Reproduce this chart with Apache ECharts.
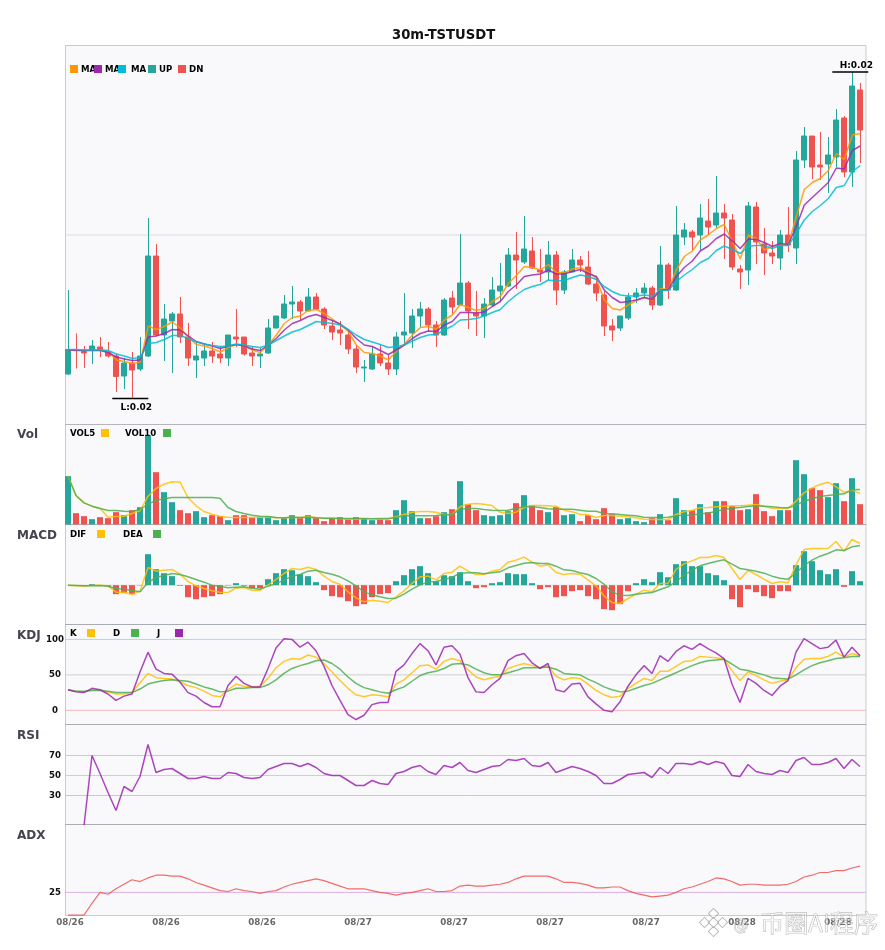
<!DOCTYPE html>
<html>
<head>
<meta charset="utf-8">
<style>html,body{margin:0;padding:0;background:#fff}#chart{width:885px;height:950px}</style>
<script src="https://cdn.jsdelivr.net/npm/echarts@6/dist/echarts.min.js"></script>
</head>
<body>
<div id="chart"></div>
<script>
// prices are in units of 0.00001
const open=[1601,1649,1646,1648,1655,1645,1637,1597,1623,1611,1637,1837,1679,1707,1721,1675,1629,1633,1647,1641,1633,1675,1675,1643,1637,1643,1693,1713,1741,1745,1727,1755,1731,1697,1689,1679,1651,1613,1611,1641,1623,1611,1679,1683,1717,1731,1699,1679,1753,1739,1783,1723,1717,1739,1767,1777,1839,1825,1847,1809,1805,1839,1769,1805,1829,1815,1781,1759,1697,1693,1713,1755,1763,1773,1739,1819,1769,1875,1885,1879,1907,1899,1923,1909,1811,1809,1935,1861,1843,1833,1879,1853,2029,2077,2019,2021,2035,2113,2005,2169];
const close=[1650,1648,1643,1657,1649,1637,1596,1623,1609,1637,1837,1679,1711,1721,1675,1633,1637,1647,1637,1633,1679,1671,1641,1637,1641,1693,1717,1741,1745,1727,1755,1731,1699,1685,1683,1651,1615,1615,1641,1623,1611,1675,1685,1717,1731,1699,1679,1749,1735,1783,1727,1717,1741,1769,1777,1839,1829,1851,1813,1805,1839,1769,1805,1829,1819,1781,1763,1697,1689,1717,1755,1763,1773,1739,1819,1769,1879,1889,1875,1913,1895,1923,1913,1815,1805,1937,1865,1843,1837,1879,1859,2029,2077,2015,2015,2039,2109,2005,2177,2089];
const low=[1599,1612,1613,1621,1635,1634,1565,1571,1552,1607,1635,1677,1627,1603,1663,1617,1593,1617,1623,1623,1617,1655,1638,1617,1613,1641,1693,1711,1711,1709,1727,1729,1691,1669,1659,1641,1603,1585,1609,1617,1599,1599,1657,1653,1695,1686,1655,1677,1719,1739,1691,1677,1673,1736,1745,1775,1771,1821,1811,1785,1789,1739,1761,1805,1805,1779,1747,1677,1667,1687,1709,1743,1755,1729,1737,1751,1767,1859,1847,1847,1879,1893,1831,1809,1771,1779,1821,1799,1821,1809,1845,1821,2013,1991,1989,1963,2015,1995,1975,2023];
const high=[1769,1682,1657,1669,1675,1665,1642,1633,1645,1675,1913,1861,1741,1725,1755,1703,1665,1663,1665,1657,1679,1731,1675,1657,1653,1711,1717,1759,1777,1749,1773,1763,1735,1707,1707,1691,1659,1629,1655,1659,1639,1685,1763,1731,1745,1735,1707,1753,1767,1881,1787,1767,1753,1795,1823,1853,1885,1917,1875,1851,1867,1847,1809,1851,1837,1847,1797,1767,1711,1717,1763,1773,1783,1777,1857,1823,1937,1903,1889,1941,1951,1997,1941,1921,1819,1945,1945,1893,1867,1889,1935,2047,2095,2077,2085,2075,2131,2117,2205,2183];
const ma5=[1649,1649,1648,1649,1649,1646,1629,1626,1622,1625,1697,1690,1696,1705,1693,1674,1660,1657,1652,1645,1654,1660,1657,1649,1644,1659,1679,1702,1714,1717,1728,1730,1722,1711,1699,1686,1659,1644,1642,1637,1629,1646,1661,1679,1694,1696,1691,1709,1719,1740,1734,1728,1732,1746,1756,1782,1798,1816,1814,1809,1820,1804,1803,1811,1814,1805,1792,1749,1732,1729,1739,1748,1754,1749,1772,1770,1809,1836,1847,1869,1879,1892,1900,1866,1831,1879,1872,1849,1856,1860,1860,1916,1970,1984,1992,2008,2042,2030,2079,2082];
const ma10=[1649,1648,1648,1648,1648,1644,1635,1631,1628,1629,1675,1677,1682,1690,1689,1677,1666,1661,1657,1652,1657,1660,1657,1651,1648,1659,1672,1689,1702,1708,1716,1720,1714,1708,1701,1689,1672,1659,1656,1648,1640,1649,1659,1672,1682,1687,1686,1699,1706,1724,1724,1723,1725,1736,1746,1766,1779,1796,1799,1801,1809,1801,1801,1806,1810,1802,1796,1769,1754,1744,1746,1749,1754,1750,1769,1770,1796,1814,1827,1847,1857,1872,1881,1867,1852,1871,1870,1864,1856,1862,1860,1896,1939,1954,1969,1984,2013,2011,2048,2057];
const ma20=[1650,1650,1649,1649,1649,1648,1641,1637,1632,1634,1662,1664,1670,1678,1678,1672,1665,1661,1658,1656,1657,1661,1659,1656,1654,1659,1668,1677,1685,1690,1698,1706,1704,1702,1699,1690,1679,1670,1665,1660,1654,1656,1659,1667,1674,1679,1680,1689,1697,1709,1710,1712,1717,1724,1730,1746,1759,1770,1776,1780,1789,1787,1788,1794,1799,1796,1790,1776,1766,1759,1757,1757,1759,1757,1769,1768,1786,1799,1810,1824,1832,1848,1857,1850,1842,1857,1858,1858,1852,1858,1858,1882,1909,1926,1938,1952,1974,1978,2006,2018];
const volume=[145,34,25,16,22,19,37,28,43,52,268,157,97,67,43,34,40,22,28,25,13,28,28,22,22,25,13,19,28,19,28,19,10,19,22,16,22,19,13,16,13,43,73,40,19,19,25,37,46,130,61,43,28,25,28,40,64,88,58,43,37,52,28,31,10,28,16,49,31,16,19,10,7,19,31,13,79,43,43,61,37,70,70,55,43,46,91,40,25,43,43,193,151,109,103,82,124,70,139,61];
const vol5=[145,87,65,55,49,22,24,25,33,41,85,108,121,128,127,81,56,39,31,25,22,21,21,21,22,22,20,20,21,21,23,21,19,19,17,16,16,17,17,16,16,23,30,36,39,39,37,30,30,53,61,63,61,57,37,33,37,51,57,57,56,55,43,38,31,29,21,27,27,25,23,20,16,15,15,15,30,38,42,50,51,53,55,56,56,58,60,55,49,48,48,70,95,110,120,127,113,97,103,93];
const vol10=[145,87,65,55,48,42,42,40,39,45,61,72,77,81,81,81,81,81,81,79,51,39,33,28,25,24,21,20,22,21,22,20,19,19,18,18,18,18,17,18,18,21,26,27,26,26,27,29,29,46,48,48,45,43,42,43,48,53,53,51,47,46,46,46,43,40,40,33,32,30,28,26,22,21,21,22,26,28,28,32,34,40,45,49,51,54,56,55,53,51,50,58,70,77,84,87,90,92,104,105];
const macdHist=[0,-1,-2,3,-1,-4,-27,-24,-27,-1,93,48,36,27,-2,-36,-42,-36,-33,-27,-1,6,-2,-9,-9,18,36,48,45,33,27,9,-15,-33,-36,-48,-63,-57,-36,-27,-24,12,30,48,57,36,12,30,27,39,12,-9,-6,6,9,36,33,33,6,-12,-6,-36,-33,-18,-15,-33,-42,-72,-75,-57,-18,6,18,9,39,24,63,72,57,57,36,30,15,-42,-66,-12,-21,-33,-39,-18,-18,60,102,72,45,33,48,-5,42,12];
const dif=[0,-2,-3,-1,0,-2,-21,-21,-28,-18,53,42,45,47,33,11,-2,-10,-17,-21,-22,-9,-7,-15,-16,0,17,35,50,47,54,47,27,11,3,-20,-38,-50,-45,-48,-52,-35,-17,5,25,27,16,35,39,57,42,32,32,42,47,69,75,84,69,57,61,38,32,35,33,16,-2,-32,-52,-55,-40,-27,-15,-20,5,5,47,64,73,83,83,89,83,50,17,44,32,18,5,10,7,60,107,110,110,110,131,102,137,125];
const dea=[0,-1,-2,-2,-1,-3,-10,-12,-16,-20,8,23,29,35,32,25,17,9,0,-3,-8,-6,-5,-9,-12,-3,5,15,27,32,42,45,38,33,25,13,-2,-20,-29,-35,-40,-39,-27,-12,1,10,11,17,23,36,37,37,34,37,40,52,59,66,68,65,65,57,46,44,37,32,20,3,-20,-30,-31,-27,-24,-22,-13,-5,11,29,45,58,65,71,76,63,50,46,42,36,27,21,18,37,59,75,87,95,106,104,115,119];
const kLine=[29,27,26,29,29,26,23,23,25,39,52,46,45,44,40,35,32,27,21,19,29,37,34,33,34,45,60,69,73,72,78,75,66,54,42,31,22,19,22,21,19,37,43,53,63,64,58,69,73,70,57,47,43,46,48,59,63,66,63,60,63,48,43,46,45,37,28,22,18,20,31,38,45,42,55,55,62,69,70,76,75,74,72,56,42,54,49,43,38,41,43,60,72,73,73,76,82,75,80,77];
const dLine=[29,27,27,28,28,27,25,25,25,30,37,40,42,43,42,41,37,33,30,26,27,31,31,32,32,36,43,52,59,63,66,70,71,66,58,47,38,32,29,26,24,29,33,41,49,53,55,59,65,66,64,58,53,50,50,53,56,60,60,60,61,58,52,51,50,44,39,33,29,26,27,31,35,38,43,48,53,58,63,67,70,71,72,65,58,56,53,50,46,45,44,50,57,63,67,70,73,74,76,76];
const jLine=[29,26,25,31,29,23,14,20,23,54,82,58,52,51,40,25,20,11,5,5,35,48,38,33,33,59,88,101,100,89,96,84,62,35,14,-6,-13,-7,8,11,11,55,64,80,94,84,64,89,91,79,46,26,25,36,45,70,77,80,67,59,66,29,26,37,38,19,9,0,-2,12,34,50,63,52,77,69,83,91,86,94,87,81,73,37,11,45,38,28,21,34,42,82,101,94,87,89,99,75,89,77];
const rsi=[null,null,0,70,52,33,15,39,34,49,81,53,56,57,52,47,47,49,47,47,53,52,48,47,48,56,59,62,62,59,62,58,52,50,50,45,40,40,45,42,41,52,54,58,60,54,51,60,58,63,55,53,56,59,60,66,65,67,60,59,63,53,56,59,57,54,50,42,42,46,51,52,53,48,58,52,62,62,61,64,61,64,62,50,49,61,54,52,51,55,53,65,68,61,61,63,67,57,66,59];
const adx=[0,0,0,13,25,23,29,34,39,37,41,44,44,43,43,40,36,33,30,27,26,29,27,26,24,26,27,31,34,36,38,40,38,35,32,29,29,29,27,25,24,22,24,25,27,29,26,26,27,32,33,32,32,33,34,36,40,43,43,43,43,40,36,36,35,33,30,30,31,31,27,24,22,20,21,22,25,29,31,34,37,41,40,37,33,34,34,33,33,33,34,37,42,44,47,47,49,49,52,54];
const tickLabels=['08/26','08/26','08/26','08/27','08/27','08/27','08/27','08/28','08/28'];
const ticksEvery=12;
const title='30m-TSTUSDT';
const panelNames=['Vol','MACD','KDJ','RSI','ADX'];

const UP='#26a69a',DN='#ef5350',ORANGE='#ff9800',PURPLE='#9c27b0',CYAN='#00bcd4',AMBER='#ffc107',GREEN='#4caf50';
const FONT='DejaVu Sans';
const categories=open.map((_,i)=>tickLabels[Math.floor(i/ticksEvery)]);
const priceScale=1e-5;
const price=a=>a.map(v=>+(v*priceScale).toFixed(5));

// panel rows: backdrop grids carry frame and reference lines, data grids carry the marks
const rows=[
 {top:45.5,h:379,min:0.015,max:0.02258,levels:[0.018789],colors:['#dcdce2'],labels:false},
 {top:424.5,h:100,min:0,max:300,levels:[],colors:[],labels:false},
 {top:524.5,h:100,min:-118,max:182,levels:[0],colors:['#dddddd'],labels:false},
 {top:624.5,h:100,min:-20,max:121,levels:[0,50,100],colors:['#f7b6b6','#cfcfcf','#a6dcd8'],labels:true},
 {top:724.5,h:100,min:1,max:101,levels:[30,50,70],colors:['#f7b6b6','#cfcfcf','#a6dcd8'],labels:true},
 {top:824.5,h:91,min:-0.5,max:100,levels:[25],colors:['#dcb0e6'],labels:true}
];
const grids=[],xAxes=[],yAxes=[],refSeries=[];
rows.forEach((r,i)=>{
 grids.push({show:true,left:65.5,width:800.5,top:r.top,height:r.h,backgroundColor:'#f9f9fc',borderColor:'#c9c9d3',borderWidth:1,z:0});
 xAxes.push({type:'value',gridIndex:i,min:0,max:1,axisLabel:{show:false},axisTick:{show:false},splitLine:{show:false},
   axisLine:{show:i<5,onZero:false,lineStyle:{color:i===0?'#b5b5bd':'#ababb2',width:1}}});
 yAxes.push({type:'value',gridIndex:i,min:r.min,max:r.max,
   axisLine:{show:false},
   axisTick:{show:false,customValues:r.levels},
   splitLine:{show:false},
   axisLabel:{show:r.labels,customValues:r.levels,align:'center',margin:10.5,fontFamily:FONT,fontWeight:'bold',fontSize:8.6,color:'#111'}});
 r.levels.forEach((lvl,j)=>refSeries.push({name:'ref'+i+'-'+j,type:'line',xAxisIndex:i,yAxisIndex:i,symbol:'none',silent:true,z:1,
   data:[[0,lvl],[1,lvl]],lineStyle:{color:r.colors[j],width:1}}));
});
rows.forEach((r,i)=>{
 const k=i+rows.length;
 grids.push({left:i===0?64.3:64,width:800,top:r.top,height:r.h,z:2});
 xAxes.push({type:'category',gridIndex:k,data:categories,boundaryGap:true,
   axisLine:{show:false},axisTick:{show:false},splitLine:{show:false},
   axisLabel:i===5?{show:true,interval:ticksEvery-1,margin:3,padding:[0,0,0,4],fontFamily:FONT,fontWeight:'bold',fontSize:8.7,color:'#666',hideOverlap:false}:{show:false}});
 yAxes.push({type:'value',gridIndex:k,min:r.min,max:r.max,show:false,splitLine:{show:false}});
});
const D=rows.length;
const line=(name,data,row,color,width)=>({name,type:'line',data,xAxisIndex:D+row,yAxisIndex:D+row,symbol:'none',smooth:false,z:5,
  lineStyle:{color,width:width||1.5,opacity:.85},itemStyle:{color},connectNulls:false});
const bars=(name,data,row,colorOf)=>({name,type:'bar',xAxisIndex:D+row,yAxisIndex:D+row,barWidth:6,z:3,
  data:data.map((v,i)=>({value:v,itemStyle:{color:colorOf(v,i)}}))});

const hiIdx=high.indexOf(Math.max(...high)),loIdx=low.indexOf(Math.min(...low));
const pMark=(name,i,v,pos,off)=>({name,coord:[i,+(v*priceScale).toFixed(5)],
  label:{show:true,position:pos,distance:off[2],offset:[off[0],off[1]],formatter:name+':'+(v*priceScale).toFixed(2),color:'#000',fontFamily:FONT,fontWeight:'bold',fontSize:9}});

const series=refSeries.concat([
 {name:'Candles',type:'candlestick',xAxisIndex:D,yAxisIndex:D,barWidth:5.8,z:3,
  data:open.map((o,i)=>[o,close[i],low[i],high[i]].map(v=>+(v*priceScale).toFixed(5))),
  itemStyle:{color:UP,color0:DN,borderColor:UP,borderColor0:DN,borderWidth:1},
  markPoint:{symbol:'rect',symbolSize:[36,1.4],symbolOffset:[-2,0],silent:true,itemStyle:{color:'#000'},animation:false,
   data:[pMark('H',hiIdx,high[hiIdx],'top',[6,0,1]),pMark('L',loIdx,low[loIdx],'bottom',[6,0,4])]}},
 line('MA5',price(ma5),0,ORANGE),line('MA10',price(ma10),0,PURPLE),line('MA20',price(ma20),0,CYAN),
 bars('Vol',volume,1,(v,i)=>close[i]>=open[i]?UP:DN),
 line('VOL5',vol5,1,AMBER),line('VOL10',vol10,1,GREEN),
 bars('MACD',macdHist,2,v=>v>=0?UP:DN),
 line('DIF',dif,2,AMBER),line('DEA',dea,2,GREEN),
 line('K',kLine,3,AMBER),line('D',dLine,3,GREEN),line('J',jLine,3,PURPLE),
 line('RSI',rsi,4,PURPLE),
 line('ADX',adx,5,DN,1.2)
]);

// legend rows as drawn: label text with a swatch over it
const gText=(text,x,y)=>({type:'text',left:x,top:y-3.5,z:20,style:{text,fill:'#000',font:'bold 8.6px "DejaVu Sans"'}});
const swatch=(x,y,fill)=>({type:'rect',left:x,top:y-4,z:21,shape:{width:8,height:8},style:{fill}});
const legends=[
 [[['MA',81],['MA',105],['MA',131],['UP',159],['DN',189]],[[70,ORANGE],[94,PURPLE],[118,CYAN],[148,UP],[178,DN]],69],
 [[['VOL5',70],['VOL10',125]],[[101,AMBER],[163,GREEN]],433],
 [[['DIF',70],['DEA',123]],[[97,AMBER],[153,GREEN]],534],
 [[['K',70],['D',113],['J',157]],[[87,AMBER],[131,GREEN],[175,PURPLE]],633]
];
const graphic=[];
legends.forEach(([t,s,y])=>{t.forEach(([a,x])=>graphic.push(gText(a,x,y)));s.forEach(([x,c])=>graphic.push(swatch(x,y,c)));});
// watermark
[[0,-9],[-9,0],[9,0],[0,9],[0,0]].forEach(([dx,dy])=>graphic.push({type:'rect',x:713.5+dx,y:922.5+dy,rotation:Math.PI/4,z:30,
  shape:{x:-3.6,y:-3.6,width:7.2,height:7.2},style:{fill:'rgba(255,255,255,.55)',stroke:'rgba(140,140,140,.6)',lineWidth:1}}));
graphic.push({type:'text',left:733,top:918,z:30,style:{text:'@',fill:'rgba(255,255,255,.4)',stroke:'rgba(120,120,120,.6)',lineWidth:.6,font:'15px "DejaVu Sans"'}});
graphic.push({type:'text',left:760,top:911,z:30,style:{text:'币圈AI程序',fill:'rgba(255,255,255,.5)',stroke:'rgba(120,120,120,.6)',lineWidth:.7,font:'24px "Noto Sans CJK SC"'}});

const titles=[{text:title,left:387,top:24.5,textStyle:{fontFamily:FONT,fontWeight:'bold',fontSize:13.2,color:'#111'}}];
[434,535,635,735,835].forEach((y,i)=>titles.push({text:panelNames[i],left:12,top:y-10,textStyle:{fontFamily:FONT,fontWeight:'bold',fontSize:12,color:'#444450'}}));

const chart=echarts.init(document.getElementById('chart'),null,{renderer:'canvas'});
chart.setOption({animation:false,backgroundColor:'#fff',title:titles,grid:grids,xAxis:xAxes,yAxis:yAxes,series,graphic});
</script>
</body>
</html>
